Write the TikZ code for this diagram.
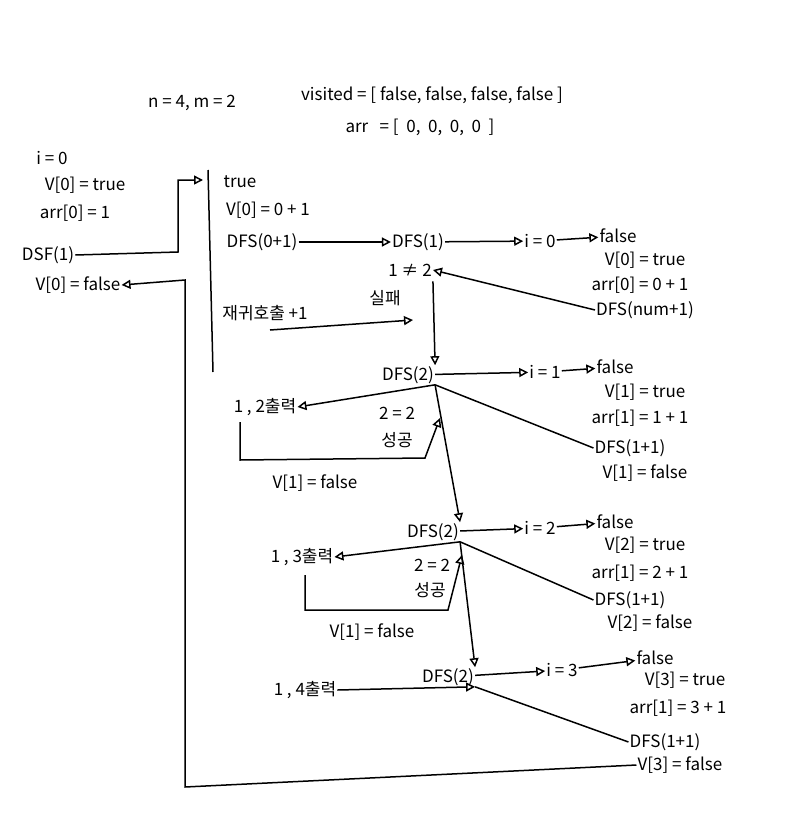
\documentclass[tikz,border=0pt]{standalone}
\usepackage{fontspec}
\setmainfont{Noto Sans CJK KR}
\usetikzlibrary{arrows.meta}
\begin{document}
\begin{tikzpicture}[x=1pt,y=-1pt,
  t/.style={font=\fontsize{17}{19}\selectfont, inner sep=1pt},
  ln/.style={line width=1.5pt},
  ar/.style={ln,-{Triangle[open,length=9pt,width=9pt]}}]
\useasboundingbox (0,0) rectangle (800,838);
% header
\node[t] (nm) at (192,103) {n = 4, m = 2};
\node[t] (vis) at (432,95) {visited = [ false, false, false, false ]};
\node[t] (arr) at (420,127) {arr \ \ = [ \ 0, \ 0, \ 0, \ 0 \ ]};
% left
\node[t] (i0) at (52,158) {i = 0};
\node[t] (v0t) at (85,185) {V[0] = true};
\node[t] (a0) at (75,213) {arr[0] = 1};
\node[t] (dsf) at (48,255) {DSF(1)};
\node[t] (v0f) at (78,285) {V[0] = false};
\draw[ln] (208,170) -- (213,372);
\coordinate (c1) at (178,252);
\coordinate (c1b) at (178,180);
\coordinate (c1e) at (203,180);
\draw[ar] (dsf.east) -- (c1) -- (c1b) -- (c1e);
% true block
\node[t] (tr) at (240,182) {true};
\node[t] (v001) at (268,210) {V[0] = 0 + 1};
\node[t] (dfs01) at (262,242) {DFS(0+1)};
\node[t] (dfs1) at (418,242) {DFS(1)};
\node[t] (i0b) at (540,241) {i = 0};
\node[t] (f0) at (618,236) {false};
\node[t] (v0t2) at (645,260) {V[0] = true};
\node[t] (a001) at (640,285) {arr[0] = 0 + 1};
\node[t] (dfsnum) at (645,310) {DFS(num+1)};
\draw[ar] (dfs01) -- (dfs1);
\draw[ar] (dfs1) -- (i0b);
\draw[ar] (i0b) -- (f0);
\node[t] (ne) at (410,270) {1 ≠ 2};
\node[t] (fail) at (385,298) {실패};
\draw[ar] (dfsnum.west) -- (ne.east);
\node[t] (rec) at (265,313) {재귀호출 +1};
\coordinate (r1) at (270,330);
\coordinate (r2) at (413,320);
\draw[ar] (r1) -- (r2);
% DFS(2) first
\node[t] (d2a) at (408,375) {DFS(2)};
\draw[ar] (ne.south east) ++(0,4) -- (d2a.north east);
\node[t] (i1) at (545,372) {i = 1};
\node[t] (f1) at (615,367) {false};
\node[t] (v1t) at (645,392) {V[1] = true};
\node[t] (a11) at (640,418) {arr[1] = 1 + 1};
\node[t] (dfs11a) at (630,448) {DFS(1+1)};
\node[t] (v1f) at (645,473) {V[1] = false};
\draw[ar] (d2a) -- (i1);
\draw[ar] (i1) -- (f1);
\node[t] (p12) at (265,407) {1 , 2출력};
\draw[ar] (d2a.south east) -- (p12.east);
\draw[ln] (d2a.south east) -- (dfs11a.west);
\node[t] (eq1) at (397,413) {2 = 2};
\node[t] (ok1) at (397,440) {성공};
\coordinate (b1) at (240,422);
\coordinate (b2) at (240,460);
\coordinate (b3) at (425,458);
\coordinate (b4) at (440,418);
\draw[ar] (b1) -- (b2) -- (b3) -- (b4);
\node[t] (v1fa) at (315,483) {V[1] = false};
% DFS(2) second
\node[t] (d2b) at (433,532) {DFS(2)};
\draw[ar] (d2a.south east) -- (d2b.north east);
\node[t] (i2) at (540,528) {i = 2};
\node[t] (f2) at (615,522) {false};
\node[t] (v2t) at (645,545) {V[2] = true};
\node[t] (a21) at (640,573) {arr[1] = 2 + 1};
\node[t] (dfs11b) at (630,600) {DFS(1+1)};
\node[t] (v2f) at (650,623) {V[2] = false};
\draw[ar] (d2b) -- (i2);
\draw[ar] (i2) -- (f2);
\node[t] (p13) at (302,557) {1 , 3출력};
\draw[ar] (d2b.south east) -- (p13.east);
\draw[ln] (d2b.south east) -- (dfs11b.west);
\node[t] (eq2) at (432,565) {2 = 2};
\node[t] (ok2) at (430,590) {성공};
\coordinate (e1) at (305,575);
\coordinate (e2) at (305,610);
\coordinate (e3) at (448,610);
\coordinate (e4) at (462,555);
\draw[ar] (e1) -- (e2) -- (e3) -- (e4);
\node[t] (v1fb) at (372,632) {V[1] = false};
% DFS(2) third
\node[t] (d2c) at (448,677) {DFS(2)};
\draw[ar] (d2b.south east) -- (d2c.north east);
\node[t] (i3) at (562,670) {i = 3};
\node[t] (f3) at (655,658) {false};
\node[t] (v3t) at (685,680) {V[3] = true};
\node[t] (a31) at (678,708) {arr[1] = 3 + 1};
\node[t] (dfs11c) at (665,742) {DFS(1+1)};
\node[t] (v3f) at (680,765) {V[3] = false};
\draw[ar] (d2c) -- (i3);
\draw[ar] (i3) -- (f3);
\node[t] (p14) at (305,690) {1 , 4출력};
\draw[ar] (p14.east) -- (d2c.south east);
\draw[ln] (dfs11c.west) -- (d2c.south east);
% long return line
\coordinate (l1) at (185,280);
\coordinate (l2) at (185,787);
\draw[ar] (v3f.west) -- (l2) -- (l1) -- (v0f.east);
\end{tikzpicture}
\end{document}
